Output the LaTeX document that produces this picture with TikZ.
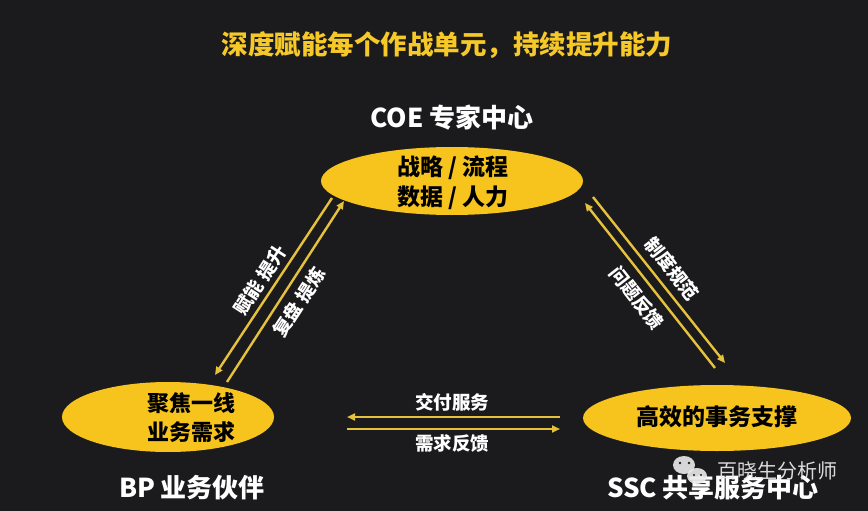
\documentclass[tikz,border=0pt]{standalone}
\usepackage{fontspec}
\newfontfamily\cjk{Noto Sans CJK SC}
\usetikzlibrary{arrows.meta,shapes.geometric}
\definecolor{bg}{RGB}{27,27,29}
\definecolor{ygold}{RGB}{246,196,28}
\definecolor{tyel}{RGB}{246,200,40}
\definecolor{lyel}{RGB}{230,194,60}
\definecolor{wm}{RGB}{235,235,235}
\begin{document}
\begin{tikzpicture}[x=1pt,y=-1pt,
  every node/.style={inner sep=0pt,outer sep=0pt},
  blob/.style={ellipse,fill=ygold,inner sep=0pt},
  intext/.style={font=\cjk\bfseries\fontsize{23}{30}\selectfont,text=black,align=center},
  caption/.style={font=\cjk\bfseries\fontsize{26}{30}\selectfont,text=white},
  flowlbl/.style={font=\cjk\bfseries\fontsize{18.5}{22}\selectfont,text=white},
  flow/.style={draw=lyel,line width=2.4pt,-{Triangle[length=8pt,width=7pt]}}]
\fill[bg] (0,0) rectangle (868,511);
\useasboundingbox (0,0) rectangle (868,511);

% title
\node[font=\cjk\bfseries\fontsize{26.5}{30}\selectfont,text=tyel] (title) at (447,45) {深度赋能每个作战单元，持续提升能力};

% ellipses
\node[blob,minimum width=262pt,minimum height=68pt] (coe) at (452,181) {};
\node[blob,minimum width=212pt,minimum height=70pt] (bp) at (168,417) {};
\node[blob,minimum width=268pt,minimum height=66pt] (ssc) at (717,418) {};

\node[intext] (coetxt) at (453,183) {战略 / 流程\\数据 / 人力};
\node[intext,font=\cjk\bfseries\fontsize{22}{29}\selectfont] (bptxt) at (191,418) {聚焦一线\\业务需求};
\node[intext] (ssctxt) at (717,417) {高效的事务支撑};

% captions
\node[caption] (coecap) at (452,118) {COE 专家中心};
\node[caption] (bpcap) at (192,488) {BP 业务伙伴};
\node[caption] (ssccap) at (713,488) {SSC 共享服务中心};

% connector end points
\coordinate (l1a) at (332,198);
\coordinate (l1b) at (215,375);
\coordinate (l2a) at (227,382);
\coordinate (l2b) at (344,201);
\coordinate (r1a) at (715,368);
\coordinate (r1b) at (585,203);
\coordinate (r2a) at (593,197);
\coordinate (r2b) at (725,363);
\coordinate (b1a) at (560,417);
\coordinate (b1b) at (347,417);
\coordinate (b2a) at (347,429);
\coordinate (b2b) at (560,429);

\draw[flow] (l1a) -- (l1b);
\draw[flow] (l2a) -- (l2b);
\draw[flow] (r1a) -- (r1b);
\draw[flow] (r2a) -- (r2b);
\draw[flow] (b1a) -- (b1b);
\draw[flow] (b2a) -- (b2b);

% connector labels
\node[flowlbl,rotate=57] (lbl1) at (260,280) {赋能 提升};
\node[flowlbl,rotate=57] (lbl2) at (299,302) {复盘 提炼};
\node[flowlbl,rotate=-52] (lbl3) at (672,269) {制度规范};
\node[flowlbl,rotate=-52] (lbl4) at (637,298) {问题反馈};
\node[flowlbl] (lbl5) at (452,402) {交付服务};
\node[flowlbl] (lbl6) at (452,443) {需求反馈};

% watermark
\fill[wm,opacity=0.9] (684,465) ellipse (11pt and 9pt);
\fill[wm,opacity=0.9] (697,476) ellipse (10pt and 8pt);
\fill[bg] (680,463) circle (1.3pt) (689,463) circle (1.3pt) (694,475) circle (1.1pt) (701,475) circle (1.1pt);
\node[font=\cjk\fontsize{20}{22}\selectfont,text=wm,opacity=0.92] (wmtext) at (777,471) {百晓生分析师};
\end{tikzpicture}
\end{document}
